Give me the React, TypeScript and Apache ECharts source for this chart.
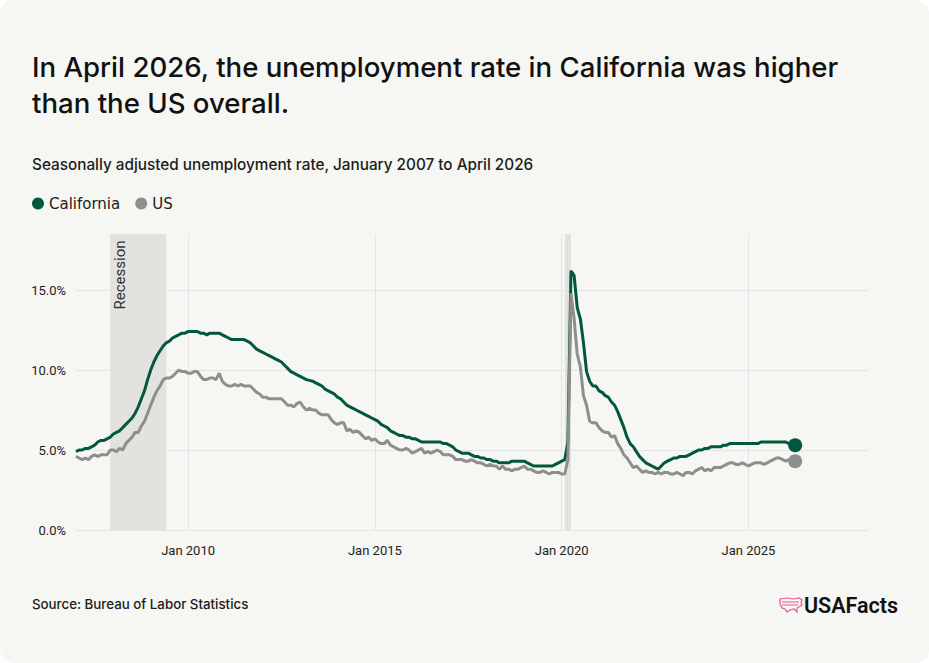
import React, { useEffect, useRef } from 'react';
import * as echarts from 'echarts';

// ---------- DATA ----------
const startYear = 2007; // first month: January 2007, monthly to April 2026

const californiaRate: number[] = [
  4.9, 5.0, 5.0, 5.1, 5.1, 5.2, 5.3, 5.5, 5.6, 5.6, 5.7, 5.8, // 2007
  6.0, 6.1, 6.2, 6.4, 6.6, 6.8, 7.0, 7.3, 7.7, 8.2, 8.7, 9.4, // 2008
  10.0, 10.5, 10.9, 11.2, 11.5, 11.7, 11.8, 12.0, 12.1, 12.2, 12.3, 12.3, // 2009
  12.4, 12.4, 12.4, 12.4, 12.3, 12.3, 12.2, 12.3, 12.3, 12.3, 12.3, 12.2, // 2010
  12.1, 12.0, 11.9, 11.9, 11.9, 11.9, 11.9, 11.8, 11.7, 11.5, 11.3, 11.2, // 2011
  11.1, 11.0, 10.9, 10.8, 10.7, 10.6, 10.5, 10.3, 10.1, 9.9, 9.8, 9.7, // 2012
  9.6, 9.5, 9.4, 9.35, 9.3, 9.2, 9.1, 9.0, 8.8, 8.7, 8.6, 8.5, // 2013
  8.3, 8.2, 8.0, 7.8, 7.7, 7.6, 7.5, 7.4, 7.3, 7.2, 7.1, 7.0, // 2014
  6.9, 6.8, 6.6, 6.5, 6.4, 6.2, 6.1, 6.0, 5.9, 5.9, 5.8, 5.8, // 2015
  5.7, 5.7, 5.6, 5.5, 5.5, 5.5, 5.5, 5.5, 5.5, 5.5, 5.4, 5.4, // 2016
  5.3, 5.2, 5.0, 4.9, 4.8, 4.8, 4.8, 4.7, 4.6, 4.6, 4.5, 4.5, // 2017
  4.4, 4.4, 4.3, 4.3, 4.2, 4.2, 4.2, 4.2, 4.3, 4.3, 4.3, 4.3, // 2018
  4.3, 4.2, 4.1, 4.0, 4.0, 4.0, 4.0, 4.0, 4.0, 4.0, 4.1, 4.2, // 2019
  4.3, 4.4, 5.5, 16.2, 15.9, 13.9, 13.2, 11.7, 9.9, 9.3, 9.0, 9.0, // 2020
  8.7, 8.6, 8.4, 8.3, 8.0, 7.8, 7.4, 6.9, 6.4, 5.8, 5.4, 5.2, // 2021
  4.9, 4.6, 4.4, 4.2, 4.1, 4.0, 3.9, 3.8, 4.0, 4.2, 4.3, 4.4, // 2022
  4.5, 4.5, 4.6, 4.6, 4.6, 4.7, 4.8, 4.9, 5.0, 5.0, 5.1, 5.1, // 2023
  5.2, 5.2, 5.2, 5.2, 5.3, 5.3, 5.4, 5.4, 5.4, 5.4, 5.4, 5.4, // 2024
  5.4, 5.4, 5.4, 5.4, 5.5, 5.5, 5.5, 5.5, 5.5, 5.5, 5.5, 5.5, // 2025
  5.5, 5.4, 5.4, 5.3, // 2026
];

const usRate: number[] = [
  4.6, 4.5, 4.4, 4.5, 4.4, 4.6, 4.7, 4.6, 4.7, 4.7, 4.7, 5.0, // 2007
  5.0, 4.9, 5.1, 5.0, 5.4, 5.6, 5.8, 6.1, 6.1, 6.5, 6.8, 7.3, // 2008
  7.8, 8.3, 8.7, 9.0, 9.4, 9.5, 9.5, 9.6, 9.8, 10.0, 9.9, 9.9, // 2009
  9.8, 9.8, 9.9, 9.9, 9.6, 9.4, 9.4, 9.5, 9.5, 9.4, 9.8, 9.3, // 2010
  9.1, 9.0, 9.0, 9.1, 9.0, 9.1, 9.0, 9.0, 9.0, 8.8, 8.6, 8.5, // 2011
  8.3, 8.3, 8.2, 8.2, 8.2, 8.2, 8.2, 8.0, 7.8, 7.8, 7.7, 7.9, // 2012
  8.0, 7.7, 7.5, 7.6, 7.5, 7.5, 7.3, 7.2, 7.2, 7.2, 6.9, 6.7, // 2013
  6.6, 6.7, 6.7, 6.2, 6.3, 6.1, 6.2, 6.1, 5.9, 5.7, 5.8, 5.6, // 2014
  5.7, 5.5, 5.4, 5.4, 5.6, 5.3, 5.2, 5.1, 5.0, 5.0, 5.1, 5.0, // 2015
  4.8, 4.9, 5.0, 5.1, 4.8, 4.9, 4.8, 4.9, 5.0, 4.9, 4.7, 4.7, // 2016
  4.7, 4.6, 4.4, 4.4, 4.4, 4.3, 4.3, 4.4, 4.3, 4.2, 4.2, 4.1, // 2017
  4.0, 4.1, 4.0, 4.0, 3.8, 4.0, 3.8, 3.8, 3.7, 3.8, 3.8, 3.9, // 2018
  4.0, 3.8, 3.8, 3.7, 3.6, 3.6, 3.7, 3.6, 3.5, 3.6, 3.6, 3.6, // 2019
  3.5, 3.5, 4.4, 14.8, 13.2, 11.0, 10.2, 8.4, 7.8, 6.8, 6.7, 6.7, // 2020
  6.4, 6.2, 6.1, 6.1, 5.8, 5.9, 5.4, 5.1, 4.7, 4.5, 4.2, 3.9, // 2021
  4.0, 3.8, 3.6, 3.7, 3.6, 3.6, 3.5, 3.6, 3.5, 3.6, 3.6, 3.5, // 2022
  3.5, 3.6, 3.5, 3.4, 3.6, 3.6, 3.5, 3.7, 3.8, 3.9, 3.7, 3.8, // 2023
  3.7, 3.9, 3.9, 3.9, 4.0, 4.1, 4.2, 4.2, 4.1, 4.1, 4.2, 4.1, // 2024
  4.0, 4.1, 4.2, 4.2, 4.2, 4.1, 4.2, 4.3, 4.4, 4.5, 4.5, 4.4, // 2025
  4.3, 4.4, 4.3, 4.3, // 2026
];

const seriesNames = ['California', 'US'];
const xTickYears = [2010, 2015, 2020, 2025];
const yTickValues = [0, 5, 10, 15];
const recessionPeriods: [string, string][] = [
  ['2007-12', '2009-06'],
  ['2020-02', '2020-04'],
];

// ---------- HELPERS ----------
const monthToX = (s: string) => {
  const [y, m] = s.split('-').map(Number);
  return y + (m - 1) / 12;
};
const toPoints = (arr: number[]) => arr.map((v, i) => [startYear + i / 12, v]);

const X_MIN = 2007;
const X_MAX = 2028.2;
const Y_MAX = 18.5;

const GREEN = '#02583f';
const GRAY = '#8e8e8b';
const BG = '#f6f6f2';
const GRID = '#e4e4e8';
const BAND = '#e2e2de';
const TEXT = '#1c1c1c';
const PINK = '#e8579a';

echarts.graphic.registerShape(
  'usafactsLogo',
  echarts.graphic.extendPath(
    'M1 2 L8 1 L15 2 L20 1 L23 3 L22 6 L23 8 L20 10 L18 11 L18 15 L15 12 L11 13 L8 15 L6 12 L3 11 L1 7 Z M3 5 L20 5 M3 8 L19 8',
    {}
  ) as any
);

export default function App() {
  const ref = useRef<HTMLDivElement>(null);

  useEffect(() => {
    if (!ref.current) return;
    const chart = echarts.init(ref.current, undefined, { renderer: 'svg' });

    const xTickCount = Math.floor(X_MAX - X_MIN) + 2;
    const xSplitColors: string[] = [];
    for (let i = 0; i < xTickCount; i++) {
      const yr = X_MIN + i;
      xSplitColors.push(xTickYears.includes(yr) ? GRID : 'rgba(0,0,0,0)');
    }
    const ySplitColors = [...yTickValues.map(() => GRID), 'rgba(0,0,0,0)'];

    const caPoints = toPoints(californiaRate);
    const usPoints = toPoints(usRate);

    const option: any = {
      animation: false,
      backgroundColor: 'transparent',
      grid: { left: 76, right: 61, top: 234, bottom: 133, containLabel: false },
      legend: {
        data: seriesNames,
        left: 32,
        top: 196,
        padding: 0,
        icon: 'circle',
        itemWidth: 12,
        itemHeight: 12,
        itemGap: 15,
        textStyle: { fontFamily: 'DejaVu Sans', fontSize: 15, color: TEXT },
      },
      xAxis: {
        type: 'value',
        min: X_MIN,
        max: X_MAX,
        interval: 1,
        axisLine: { show: false },
        axisTick: { show: false },
        axisLabel: {
          margin: 14,
          color: '#222',
          fontFamily: 'Roboto',
          fontSize: 13,
          showMaxLabel: false,
          showMinLabel: true,
          formatter: (v: number) => {
            const r = Math.round(v);
            return Math.abs(v - r) < 1e-6 && xTickYears.includes(r) ? `Jan ${r}` : '';
          },
        },
        splitLine: { show: true, lineStyle: { color: xSplitColors, width: 1 } },
      },
      yAxis: {
        type: 'value',
        min: 0,
        max: Y_MAX,
        interval: 5,
        axisLine: { show: false },
        axisTick: { show: false },
        axisLabel: {
          margin: 10,
          color: '#222',
          fontFamily: 'Roboto',
          fontSize: 13,
          showMaxLabel: false,
          formatter: (v: number) => (yTickValues.includes(v) ? `${v.toFixed(1)}%` : ''),
        },
        splitLine: { show: true, showMaxLine: false, lineStyle: { color: ySplitColors, width: 1 } },
      },
      series: [
        {
          name: seriesNames[0],
          type: 'line',
          data: caPoints,
          symbol: 'none',
          lineStyle: { color: GREEN, width: 3 },
          itemStyle: { color: GREEN },
          z: 3,
          markArea: {
            silent: true,
            itemStyle: { color: BAND },
            data: recessionPeriods.map(([a, b]) => [{ xAxis: monthToX(a) }, { xAxis: monthToX(b) }]),
            z: 1,
          },
        },
        {
          name: seriesNames[1],
          type: 'line',
          data: usPoints,
          symbol: 'none',
          lineStyle: { color: GRAY, width: 3 },
          itemStyle: { color: GRAY },
          z: 4,
        },
        {
          name: 'California latest',
          type: 'scatter',
          data: [caPoints[caPoints.length - 1]],
          symbol: 'circle',
          symbolSize: 14,
          itemStyle: { color: GREEN, opacity: 1 },
          z: 6,
        },
        {
          name: 'US latest',
          type: 'scatter',
          data: [usPoints[usPoints.length - 1]],
          symbol: 'circle',
          symbolSize: 14,
          itemStyle: { color: GRAY, opacity: 1 },
          z: 6,
        },
      ],
      graphic: [
        {
          type: 'text', x: 32, y: 67,
          style: { text: 'In April 2026, the unemployment rate in California was higher', font: '500 27.6px Inter', fill: '#111', align: 'left', verticalAlign: 'middle' },
        },
        {
          type: 'text', x: 32, y: 103,
          style: { text: 'than the US overall.', font: '500 27.6px Inter', fill: '#111', align: 'left', verticalAlign: 'middle' },
        },
        {
          type: 'text', x: 32, y: 164,
          style: { text: 'Seasonally adjusted unemployment rate, January 2007 to April 2026', font: '500 15.3px Inter', fill: TEXT, align: 'left', verticalAlign: 'middle' },
        },
        {
          type: 'text', x: 120, y: 275, rotation: Math.PI / 2,
          style: { text: 'Recession', font: '15px Roboto', fill: '#333', align: 'center', verticalAlign: 'middle' },
          z: 10,
        },
        {
          type: 'text', x: 32, y: 604,
          style: { text: 'Source: Bureau of Labor Statistics', font: '500 13.3px Inter', fill: TEXT, align: 'left', verticalAlign: 'middle' },
        },
        {
          type: 'usafactsLogo', x: 779, y: 597, scaleX: 1, scaleY: 1,
          style: { fill: 'none', stroke: PINK, lineWidth: 1.2 },
        },
        {
          type: 'text', x: 804, y: 605,
          style: { text: 'USAFacts', font: '600 21.5px Roboto', fill: '#111', align: 'left', verticalAlign: 'middle' },
        },
      ],
    };

    chart.setOption(option);
    return () => chart.dispose();
  }, []);

  return (
    <div style={{ position: 'absolute', left: 0, top: 0, width: 929, height: 663, background: '#ffffff' }}>
      <div
        ref={ref}
        style={{ width: 929, height: 663, background: BG, borderRadius: 14, overflow: 'hidden' }}
      />
    </div>
  );
}
